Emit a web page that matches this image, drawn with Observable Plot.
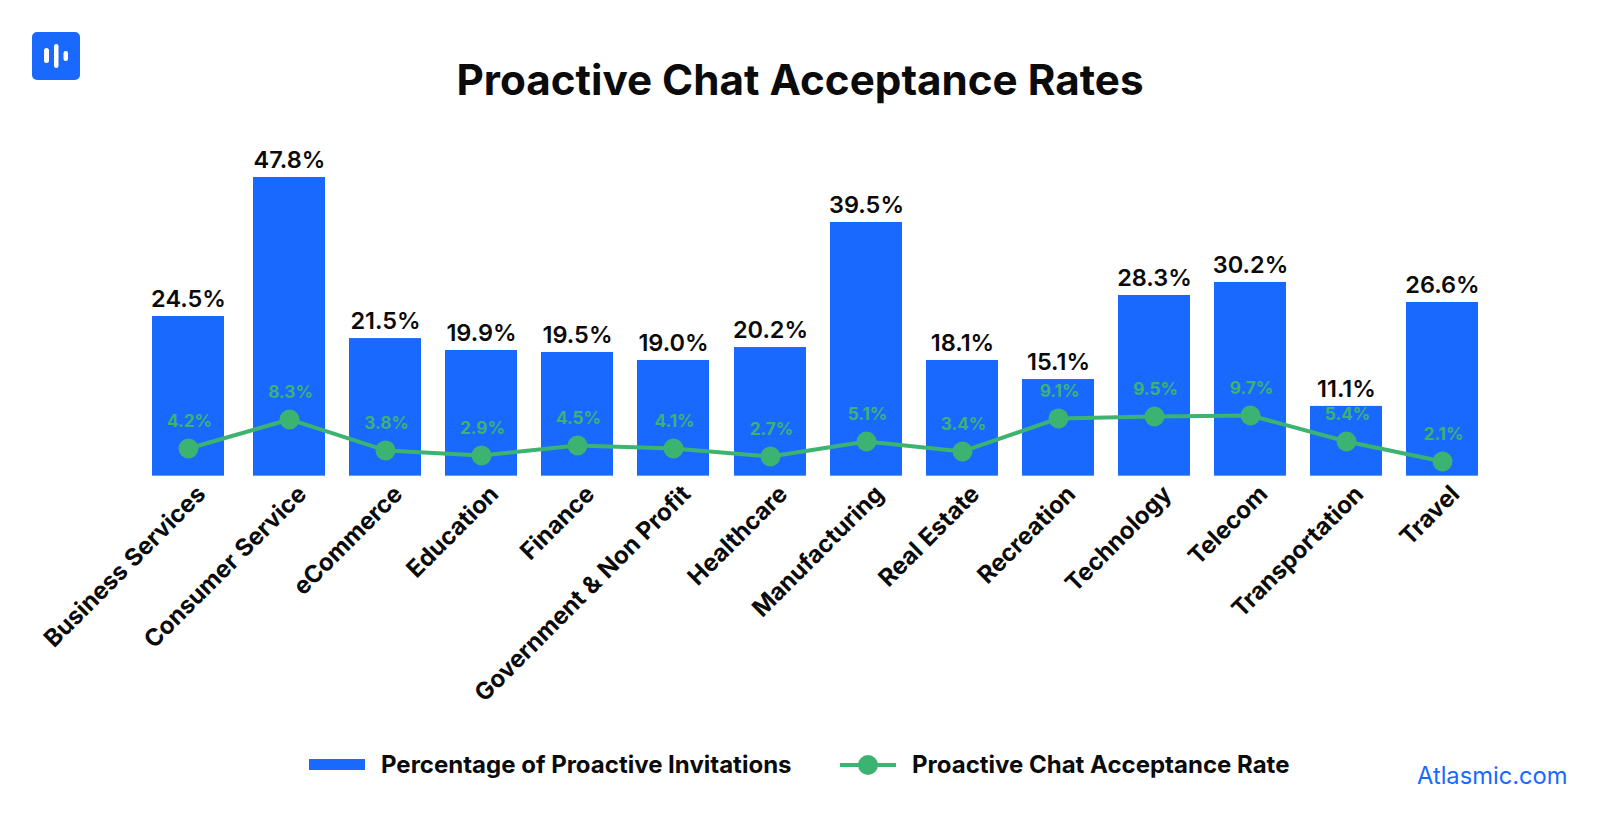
<!DOCTYPE html>
<html>
<head>
<meta charset="utf-8">
<script src="https://cdn.jsdelivr.net/npm/d3@7"></script>
<script src="https://cdn.jsdelivr.net/npm/@observablehq/plot@0.6"></script>
<style>
  html, body { margin: 0; padding: 0; background: #fff; overflow: hidden; }
  body { position: relative; width: 1600px; height: 818px; font-family: Inter, sans-serif; color: #0b0b0b; }
  #logo { position: absolute; left: 32px; top: 32px; width: 48px; height: 48px; }
  #title { position: absolute; left: 0; width: 1600px; top: 54px; text-align: center; font-size: 42.2px; line-height: 52px; font-weight: 700; }
  #chart { position: absolute; left: 0; top: 130px; }
  .legend-text { position: absolute; top: 752px; line-height: 26px; font-size: 24px; font-weight: 700; white-space: nowrap; }
  #swatch-bar { position: absolute; left: 309px; top: 759px; width: 56px; height: 11px; background: #1a69ff; }
  #swatch-line { position: absolute; left: 840px; top: 754px; width: 56px; height: 22px; }
  #brand { position: absolute; left: 1417px; top: 763px; line-height: 26px; font-size: 23.7px; font-weight: 400; color: #1a69ff; white-space: nowrap; }
</style>
</head>
<body>
<svg id="logo" viewBox="0 0 48 48"><rect width="48" height="48" rx="5" fill="#1a69ff"/><rect x="12" y="16" width="5" height="15" rx="2.5" fill="#fff"/><rect x="22" y="12" width="4.5" height="24" rx="2.25" fill="#fff"/><rect x="31.5" y="19" width="4.5" height="10" rx="2.25" fill="#fff"/></svg>
<div id="title">Proactive Chat Acceptance Rates</div>
<div id="chart"></div>
<div id="swatch-bar"></div>
<div class="legend-text" style="left:381px">Percentage of Proactive Invitations</div>
<svg id="swatch-line" viewBox="0 0 56 22"><line x1="0" x2="56" y1="11" y2="11" stroke="#3cb371" stroke-width="4"/><circle cx="28" cy="11" r="10" fill="#3cb371"/></svg>
<div class="legend-text" style="left:912px">Proactive Chat Acceptance Rate</div>
<div id="brand">Atlasmic.com</div>
<script>
const categories = ["Business Services","Consumer Service","eCommerce","Education","Finance","Government & Non Profit","Healthcare","Manufacturing","Real Estate","Recreation","Technology","Telecom","Transportation","Travel"];
const invitationLabels = ["24.5%","47.8%","21.5%","19.9%","19.5%","19.0%","20.2%","39.5%","18.1%","15.1%","28.3%","30.2%","11.1%","26.6%"];
const acceptanceLabels = ["4.2%","8.3%","3.8%","2.9%","4.5%","4.1%","2.7%","5.1%","3.4%","9.1%","9.5%","9.7%","5.4%","2.1%"];
// Heights (the drawn marks differ slightly from their printed labels).
const invitationHeights = [24.95,46.67,21.5,19.64,19.33,18.08,20.1,39.64,18.08,15.1,28.23,30.27,10.9,27.14];
const acceptanceHeights = [4.33,8.86,4.02,3.23,4.8,4.33,3.08,5.42,3.86,9.02,9.33,9.48,5.42,2.3];

const BLUE = "#1a69ff", GREEN = "#3cb371", INK = "#0b0b0b";
// The picture's columns are evenly spaced except for slightly wider gaps after the 1st and 6th.
const slot = i => i + (i > 0 ? 5 / 96 : 0) + (i > 5 ? 1 / 96 : 0);
const rows = categories.map((category, i) => ({
  category, pos: slot(i),
  bar: invitationHeights[i], barLabel: invitationLabels[i],
  rate: acceptanceHeights[i], rateLabel: acceptanceLabels[i]
}));

const plot = Plot.plot({
  width: 1600, height: 590,
  marginLeft: 188, marginRight: 158, marginTop: 25.67, marginBottom: 244.33,
  x: {type: "linear", domain: [0, slot(13)], axis: null, label: null},
  y: {domain: [0, 50], axis: null},
  style: {fontFamily: "Inter, sans-serif", background: "transparent", overflow: "visible"},
  marks: [
    Plot.rectY(rows, {x1: d => d.pos - 0.375, x2: d => d.pos + 0.375, y1: 0, y2: "bar", fill: BLUE}),
    Plot.text(rows, {x: "pos", y: "bar", text: "barLabel", dy: -17, fontSize: 23.5, fontWeight: 600, fill: INK}),
    Plot.line(rows, {x: "pos", y: "rate", stroke: GREEN, strokeWidth: 4, curve: "linear"}),
    Plot.dot(rows, {x: "pos", y: "rate", r: 10, fill: GREEN}),
    Plot.text(rows, {x: "pos", y: "rate", text: "rateLabel", dx: 1, dy: -27, fontSize: 17.2, fontWeight: 700, fill: GREEN}),
    Plot.axisX({
      ticks: rows.map(d => d.pos),
      tickFormat: (d, i) => categories[i],
      label: null,
      tickSize: 0, tickPadding: 10, tickRotate: -45, dx: 13, dy: 4,
      fontSize: 24, fontWeight: 700, fill: INK,
      lineWidth: 40, textOverflow: null
    })
  ]
});
document.getElementById("chart").appendChild(plot);
</script>
</body>
</html>
